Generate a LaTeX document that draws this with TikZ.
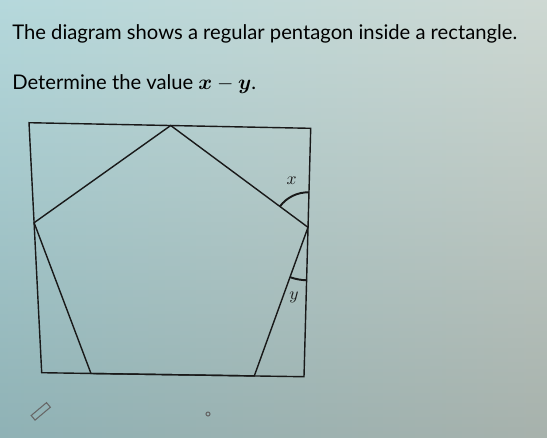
\documentclass[tikz,border=0pt]{standalone}
\usepackage{amsmath}
\usepackage{amssymb}
\usepackage{fontspec}
\setmainfont{Lato}
\usetikzlibrary{angles}

\definecolor{bgleft}{RGB}{150,200,205}
\definecolor{bgmid}{RGB}{216,233,225}
\definecolor{bgright}{RGB}{185,200,192}
\definecolor{ink}{RGB}{25,25,25}

\begin{document}
\begin{tikzpicture}[x=0.02cm,y=-0.02cm]
\shade[left color=bgleft, middle color=bgmid, right color=bgright] (0,0) rectangle (547,437);
\shade[top color=white, bottom color=gray, opacity=0.3] (0,0) rectangle (547,437);
\useasboundingbox (0,0) rectangle (547,437);

\node[anchor=base west, inner sep=0pt, font=\fontsize{11.5}{13}\selectfont] (line1) at (12,39.5)
  {The diagram shows a regular pentagon inside a rectangle.};
\node[anchor=base west, inner sep=0pt, font=\fontsize{11.5}{13}\selectfont] (line2) at (12,89)
  {Determine the value $\boldsymbol{x} - \boldsymbol{y}$.};

% rectangle
\coordinate (r1) at (29,122.7);
\coordinate (r2) at (310.7,128.3);
\coordinate (r3) at (304,376.7);
\coordinate (r4) at (41.7,372.7);

% pentagon
\coordinate (p1) at (170.7,125.5);
\coordinate (p2) at (308,227.3);
\coordinate (p3) at (254.3,375.9);
\coordinate (p4) at (91,373.5);
\coordinate (p5) at (34.1,222.7);

\draw[ink, line width=0.8pt] (r1) -- (r2) -- (r3) -- (r4) -- cycle;
\draw[ink, line width=0.8pt] (p1) -- (p2) -- (p3) -- (p4) -- (p5) -- cycle;

\path pic[draw=ink, line width=1.1pt, angle radius=0.7cm] {angle = r2--p2--p1};
\path pic[draw=ink, line width=1.1pt, angle radius=1.06cm] {angle = p3--p2--r3};

\node[ink] (xlab) at (291.7,181) {$x$};
\node[ink] (ylab) at (294,297) {$y$};

% bits of the screen
\draw[gray!80!black, line width=0.6pt, rotate around={40:(40,412)}]
  (31,409) rectangle (51,415);
\draw[gray!80!black, line width=0.6pt] (208,414) circle (2);
\end{tikzpicture}
\end{document}
